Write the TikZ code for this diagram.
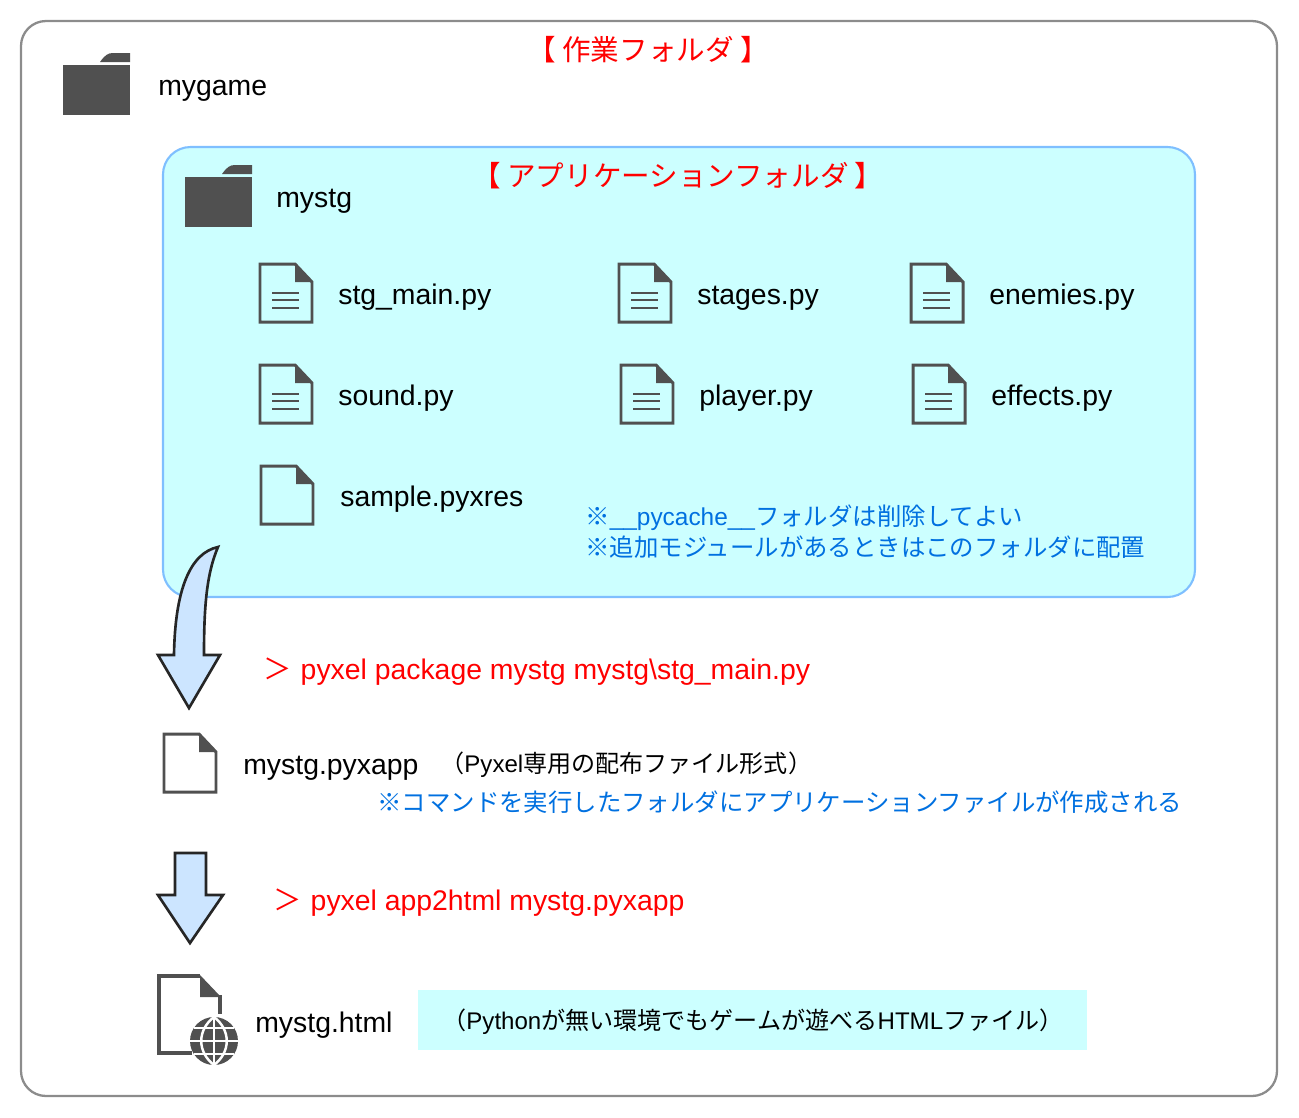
\documentclass[tikz,border=0pt]{standalone}
\usepackage{fontspec}
\setmainfont{Liberation Sans}
\newfontfamily\cjk{Noto Sans CJK JP}
\usetikzlibrary{calc}
\definecolor{iconGray}{HTML}{505050}
\definecolor{panelCyan}{HTML}{CCFFFF}
\definecolor{panelLine}{HTML}{7FBFFF}
\definecolor{arrowBlue}{HTML}{CCE5FF}
\definecolor{noteBlue}{HTML}{0070E0}
\tikzset{
	label/.style={anchor=base west,inner sep=0pt,font=\fontsize{16.15}{18}\selectfont},
	title/.style={anchor=center,inner sep=0pt,text=red,font=\cjk\fontsize{16.25}{18}\selectfont},
	command/.style={anchor=base west,inner sep=0pt,text=red,font=\fontsize{16.15}{18}\selectfont},
	note/.style={anchor=west,inner sep=0pt,text=noteBlue,font=\fontsize{13.9}{21}\selectfont},
	blocktext/.style={anchor=west,inner sep=0pt,font=\fontsize{13.7}{16}\selectfont},
	blockarrow/.style={draw=black!85,fill=arrowBlue,line width=1.5,line join=miter},
}
% icons, at the top left corner of each one
\newcommand*{\folderIcon}[2]{
	\fill[iconGray] (#1,#2+12) rectangle (#1+67,#2+62);
	\fill[iconGray] (#1+37,#2+9) .. controls (#1+42,#2+2) and (#1+45,#2) .. (#1+50,#2) -- (#1+67,#2) -- (#1+67,#2+9) -- cycle;
}
\newcommand*{\fileIcon}[2]{
	\draw[iconGray,line width=1.7] (#1,#2) -- (#1+35,#2) -- (#1+52,#2+18) -- (#1+52,#2+58) -- (#1,#2+58) -- cycle;
	\fill[iconGray] (#1+35,#2) -- (#1+52,#2+18) -- (#1+35,#2+18) -- cycle;
}
\newcommand*{\codeIcon}[2]{
	\fileIcon{#1}{#2}
	\foreach \i in {29,36,44} {
		\draw[iconGray,line width=1.3] (#1+12,#2+\i) -- (#1+39,#2+\i);
	}
}
\begin{document}
\begin{tikzpicture}[x=0.02cm,y=-0.02cm]
	\useasboundingbox (0,0) rectangle (1299,1117);
	
	\draw[draw=black!45,line width=1.3,rounded corners=0.5cm] (21,21) rectangle (1277,1096);
	\node[title] (worktitle) at (648,50) {【 作業フォルダ 】};
	\folderIcon{63}{53}
	\node[label] (mygame) at (158,95) {mygame};
	
	\draw[draw=panelLine,fill=panelCyan,line width=1.2,rounded corners=0.55cm] (163,147) rectangle (1195,597);
	\node[title] (apptitle) at (678,176) {【 アプリケーションフォルダ 】};
	\folderIcon{185}{165}
	\node[label] (mystg) at (276,207) {mystg};
	
	\codeIcon{260}{264}
	\node[label] (stgmain) at (338,304) {stg\_main.py};
	\codeIcon{619}{264}
	\node[label] (stages) at (697,304) {stages.py};
	\codeIcon{911}{264}
	\node[label] (enemies) at (989,304) {enemies.py};
	\codeIcon{260}{365}
	\node[label] (sound) at (338,405) {sound.py};
	\codeIcon{621}{365}
	\node[label] (player) at (699,405) {player.py};
	\codeIcon{913}{365}
	\node[label] (effects) at (991,405) {effects.py};
	\fileIcon{261}{466}
	\node[label] (sample) at (340,506) {sample.pyxres};
	
	\node[note] (notea) at (585,518) {{\cjk ※}\_\_pycache\_\_{\cjk フォルダは削除してよい}};
	\node[note] (noteb) at (585,547) {{\cjk ※追加モジュールがあるときはこのフォルダに配置}};
	
	% curved arrow out of the panel
	\draw[blockarrow] (218,547) .. controls (190,553) and (175,590) .. (174,655) -- (158,655) -- (189,708) -- (220,655) -- (204,655) .. controls (204,610) and (206,575) .. (218,547) -- cycle;
	\node[command] (cmdpackage) at (263,679) {{\cjk ＞}\hspace{0.18cm}pyxel package mystg mystg\textbackslash stg\_main.py};
	
	\fileIcon{164}{734}
	\node[label] (pyxapp) at (243,774) {mystg.pyxapp};
	\node[blocktext] (pyxappnote) at (440,765) {{\cjk （}Pyxel{\cjk 専用の配布ファイル形式）}};
	\node[note] (notec) at (377,802) {{\cjk ※コマンドを実行したフォルダにアプリケーションファイルが作成される}};
	
	\draw[blockarrow] (175,853) -- (206,853) -- (206,895) -- (223,895) -- (190,943) -- (158,895) -- (175,895) -- cycle;
	\node[command] (cmdhtml) at (273,910) {{\cjk ＞}\hspace{0.18cm}pyxel app2html mystg.pyxapp};
	
	% html file with the globe on its corner
	\draw[iconGray,line width=1.8] (200,976) -- (159,976) -- (159,1053) -- (192,1053);
	\draw[iconGray,line width=1.8] (220,995) -- (220,1014);
	\fill[iconGray] (200,975) -- (221,997) -- (200,997) -- cycle;
	\fill[iconGray] (214,1041) circle (24);
	\begin{scope}[white,line width=1.4]
		\draw (214,1017) -- (214,1065);
		\draw (190,1041) -- (238,1041);
		\draw (194,1028) -- (234,1028);
		\draw (194,1054) -- (234,1054);
		\draw (214,1017) .. controls (197,1030) and (197,1052) .. (214,1065);
		\draw (214,1017) .. controls (231,1030) and (231,1052) .. (214,1065);
	\end{scope}
	\node[label] (html) at (255,1032) {mystg.html};
	\fill[panelCyan] (418,990) rectangle (1087,1050);
	\node[blocktext] (htmlnote) at (442,1022) {{\cjk （}Python{\cjk が無い環境でもゲームが遊べる}HTML{\cjk ファイル）}};
\end{tikzpicture}
\end{document}
